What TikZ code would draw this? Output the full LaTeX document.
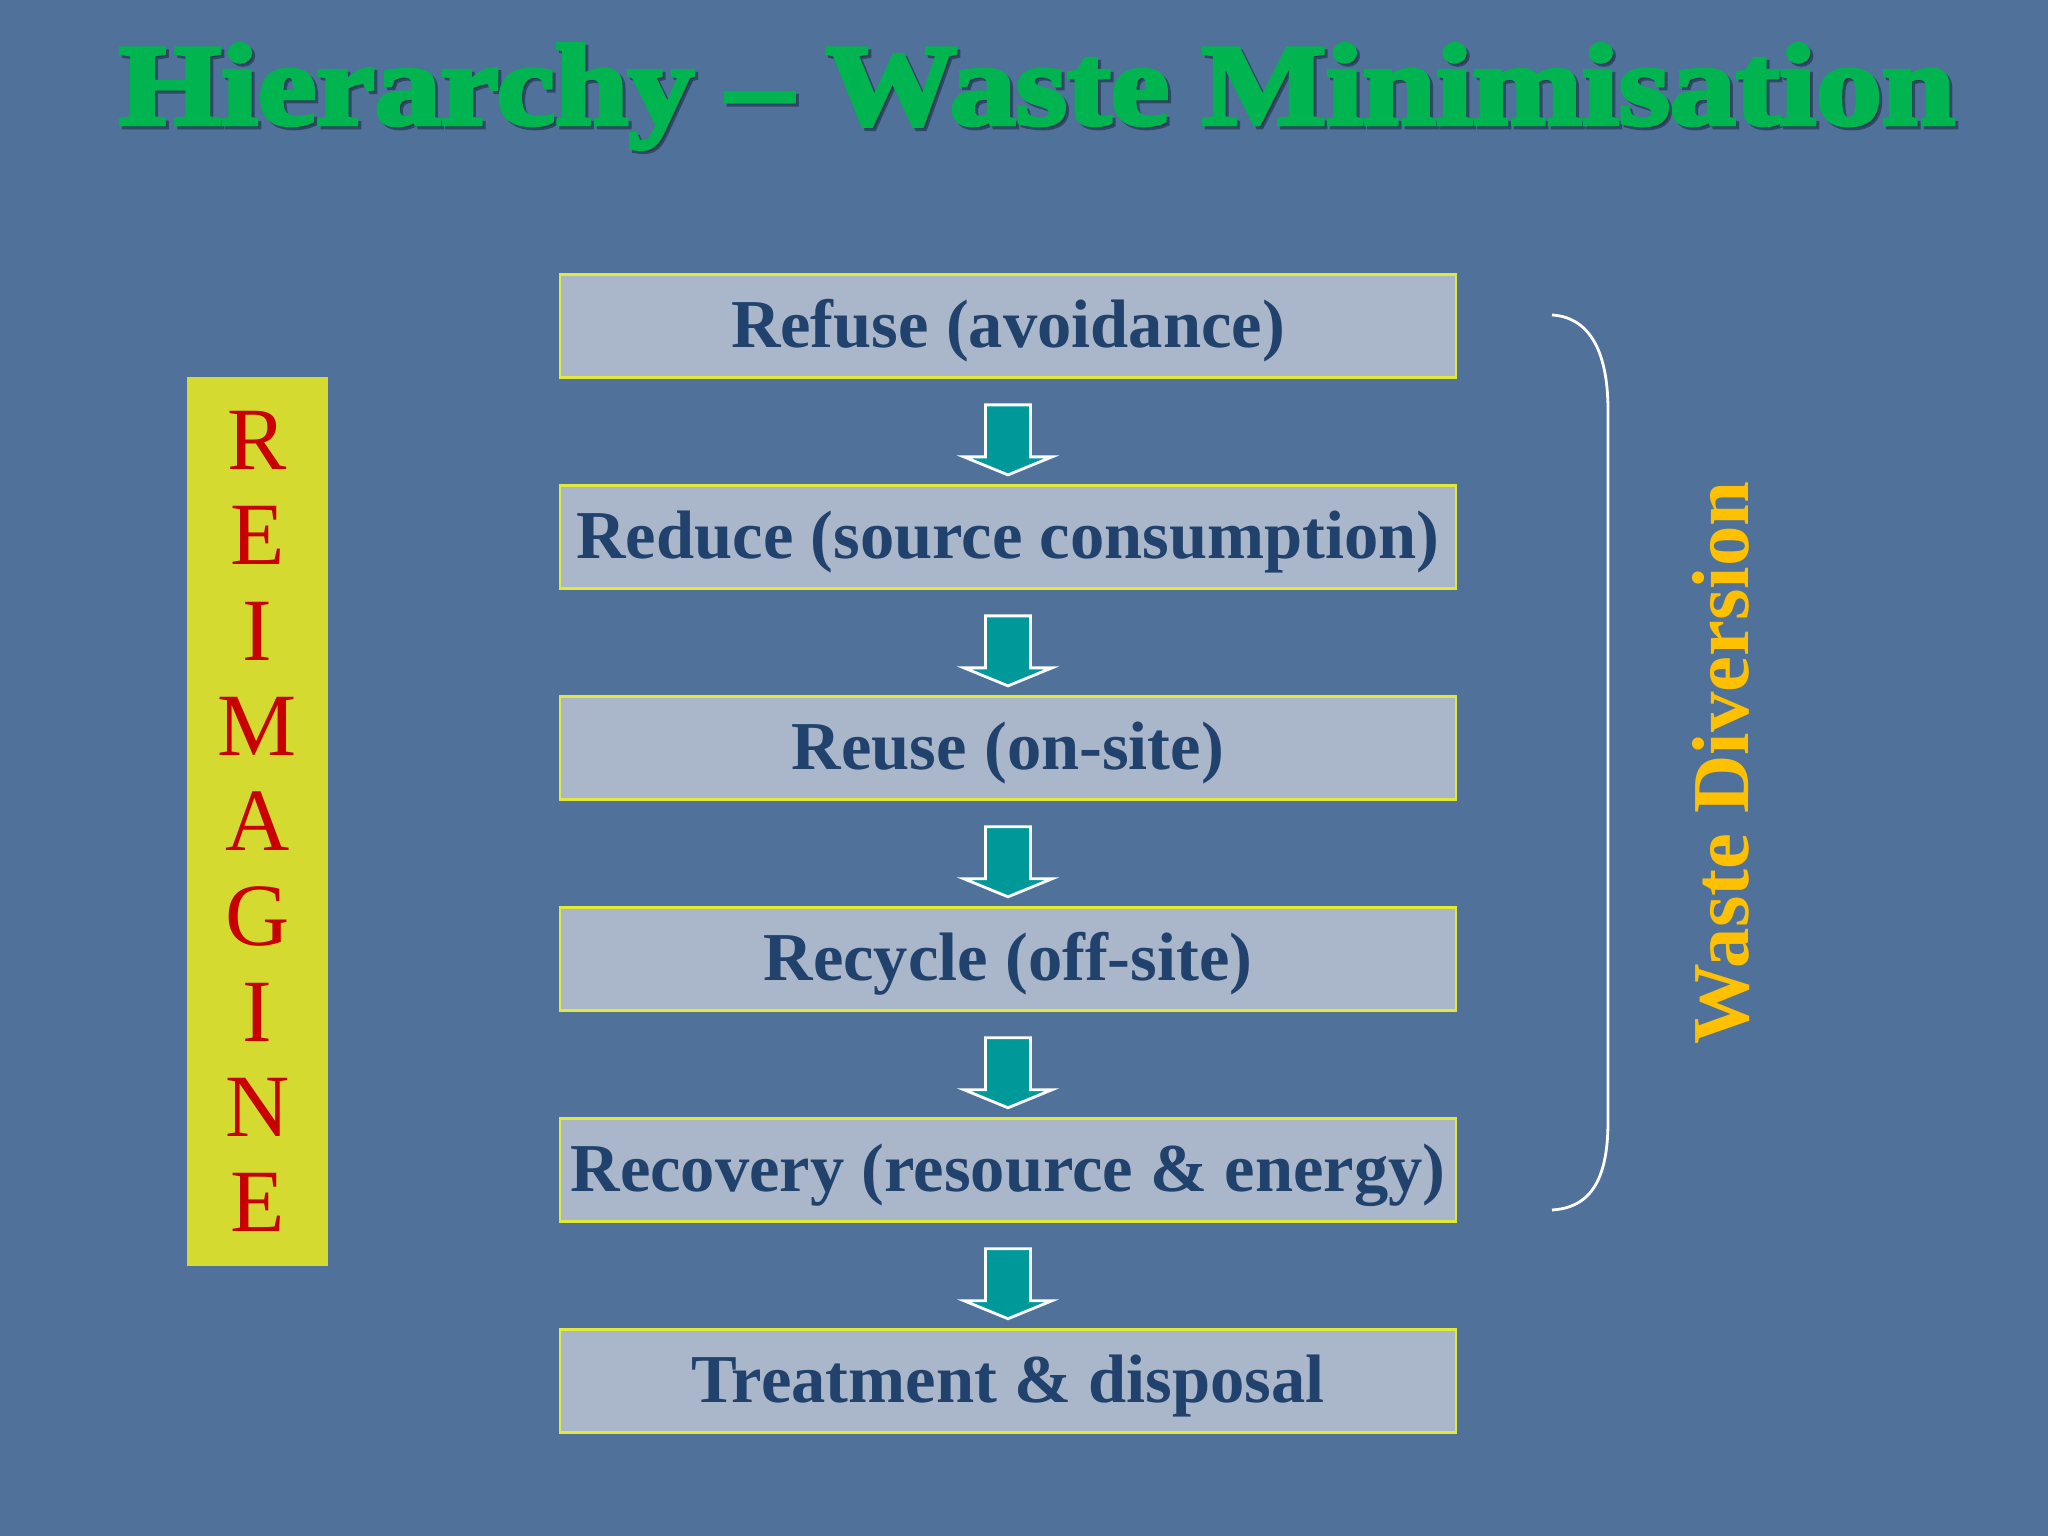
\documentclass[tikz,border=0pt]{standalone}
\usepackage{fontspec}
\setmainfont{Liberation Serif}
\newfontfamily\titlefont{Liberation Serif}[FakeStretch=1.145,FakeBold=4]
\usetikzlibrary{positioning,calc}

\definecolor{bgblue}{RGB}{80,113,154}
\definecolor{boxfill}{RGB}{170,182,202}
\definecolor{boxtext}{RGB}{33,66,108}
\definecolor{boxline}{RGB}{225,235,55}
\definecolor{arrowteal}{RGB}{0,153,153}
\definecolor{titlegreen}{RGB}{0,180,80}
\definecolor{titleshade}{RGB}{30,45,70}
\definecolor{reimaginefill}{RGB}{212,218,48}
\definecolor{reimaginered}{RGB}{200,0,0}
\definecolor{divgold}{RGB}{255,192,0}

\tikzset{
	stepbox/.style={draw=boxline, line width=0.7pt, fill=boxfill, text=boxtext,
		minimum width=8.96cm, minimum height=1.03cm, inner sep=0pt,
		text height=16.6pt, text depth=4.5pt,
		font=\fontsize{19.5}{23}\selectfont\bfseries},
	downarrow/.style={draw=white, line width=0.8pt, fill=arrowteal, line join=miter},
	bracket/.style={draw=white, line width=0.8pt}
}

\begin{document}
\begin{tikzpicture}
	%background
	\fill [bgblue] (0, 0) rectangle (20.48, 15.36);
	\useasboundingbox (0, 0) rectangle (20.48, 15.36);

	%title
	\node [anchor=base, text=titleshade, opacity=0.6, font=\titlefont\fontsize{32.7}{36}\selectfont\bfseries]
		(titleshadow) at (10.40, 14.09) {Hierarchy – Waste Minimisation};
	\node [anchor=base, text=titlegreen, font=\titlefont\fontsize{32.7}{36}\selectfont\bfseries]
		(title) at (10.37, 14.12) {Hierarchy – Waste Minimisation};

	%steps
	\node [stepbox] (refuse) at (10.08, 12.10) {Refuse (avoidance)};
	\node [stepbox, below=1.055cm of refuse] (reduce) {Reduce (source consumption)};
	\node [stepbox, below=1.055cm of reduce] (reuse) {Reuse (on-site)};
	\node [stepbox, below=1.055cm of reuse] (recycle) {Recycle (off-site)};
	\node [stepbox, below=1.055cm of recycle] (recovery) {Recovery (resource \& energy)};
	\node [stepbox, below=1.055cm of recovery] (treatment) {Treatment \& disposal};

	%arrows
	\foreach \a/\b in {refuse/reduce, reduce/reuse, reuse/recycle, recycle/recovery, recovery/treatment}
		\draw [downarrow] ($(\a.south)!0.58!(\b.north)$) ++(-0.225, 0.35)
			-- ++(0.45, 0) -- ++(0, -0.52) -- ++(0.215, 0) -- ++(-0.44, -0.18)
			-- ++(-0.44, 0.18) -- ++(0.215, 0) -- cycle;

	%reimagine
	\node [fill=reimaginefill, text=reimaginered, minimum width=1.41cm, minimum height=8.89cm,
		inner sep=0pt, align=center, font=\fontsize{25.3}{27.1}\selectfont]
		(reimagine) at (2.575, 7.145) {R\\E\\I\\M\\A\\G\\I\\N\\E};

	%diversion
	\draw [bracket] (15.52, 12.21) .. controls (15.86, 12.19) and (16.08, 11.90) .. (16.08, 11.26)
		-- (16.08, 4.14) .. controls (16.08, 3.50) and (15.86, 3.28) .. (15.52, 3.26);
	\node [anchor=base, rotate=90, text=divgold, font=\fontsize{23}{26}\selectfont\bfseries]
		(diversion) at (17.48, 7.73) {Waste Diversion};

\end{tikzpicture}
\end{document}
